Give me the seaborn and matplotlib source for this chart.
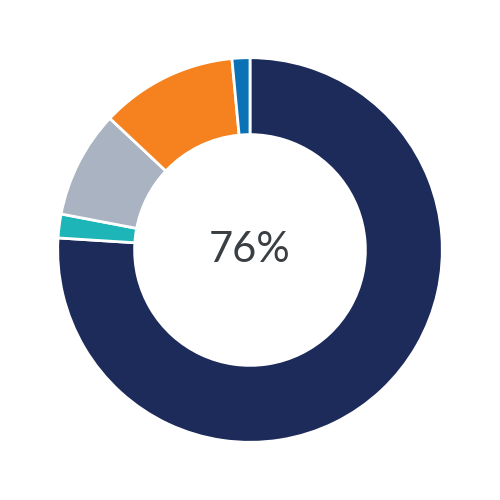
import matplotlib
matplotlib.use("Agg")
import matplotlib.pyplot as plt
import seaborn as sns

sns.set_style("white")
plt.rcParams['font.family'] = ['Lato', 'DejaVu Sans']

labels = ["Navy", "Teal", "Gray", "Orange", "Blue"]
values = [76, 2, 9, 11.5, 1.5]
colors = ["#1c2b5a", "#1db5b7", "#a9b3c1", "#f5821f", "#0b72b5"]
center_text = "76%"

fig, ax = plt.subplots(figsize=(5, 5), dpi=100)
fig.subplots_adjust(0, 0, 1, 1)
ax.pie(values, colors=colors, startangle=90, counterclock=False,
       radius=1.0, wedgeprops=dict(width=0.4, edgecolor="white", linewidth=2))
ax.text(0, 0, center_text, ha="center", va="center", fontsize=30, color="#3a3f44")
ax.set_xlim(-1.3, 1.3)
ax.set_ylim(-1.3, 1.3)
ax.set_aspect("equal")
ax.axis("off")
fig.savefig("out.png", dpi=100, facecolor="white")
